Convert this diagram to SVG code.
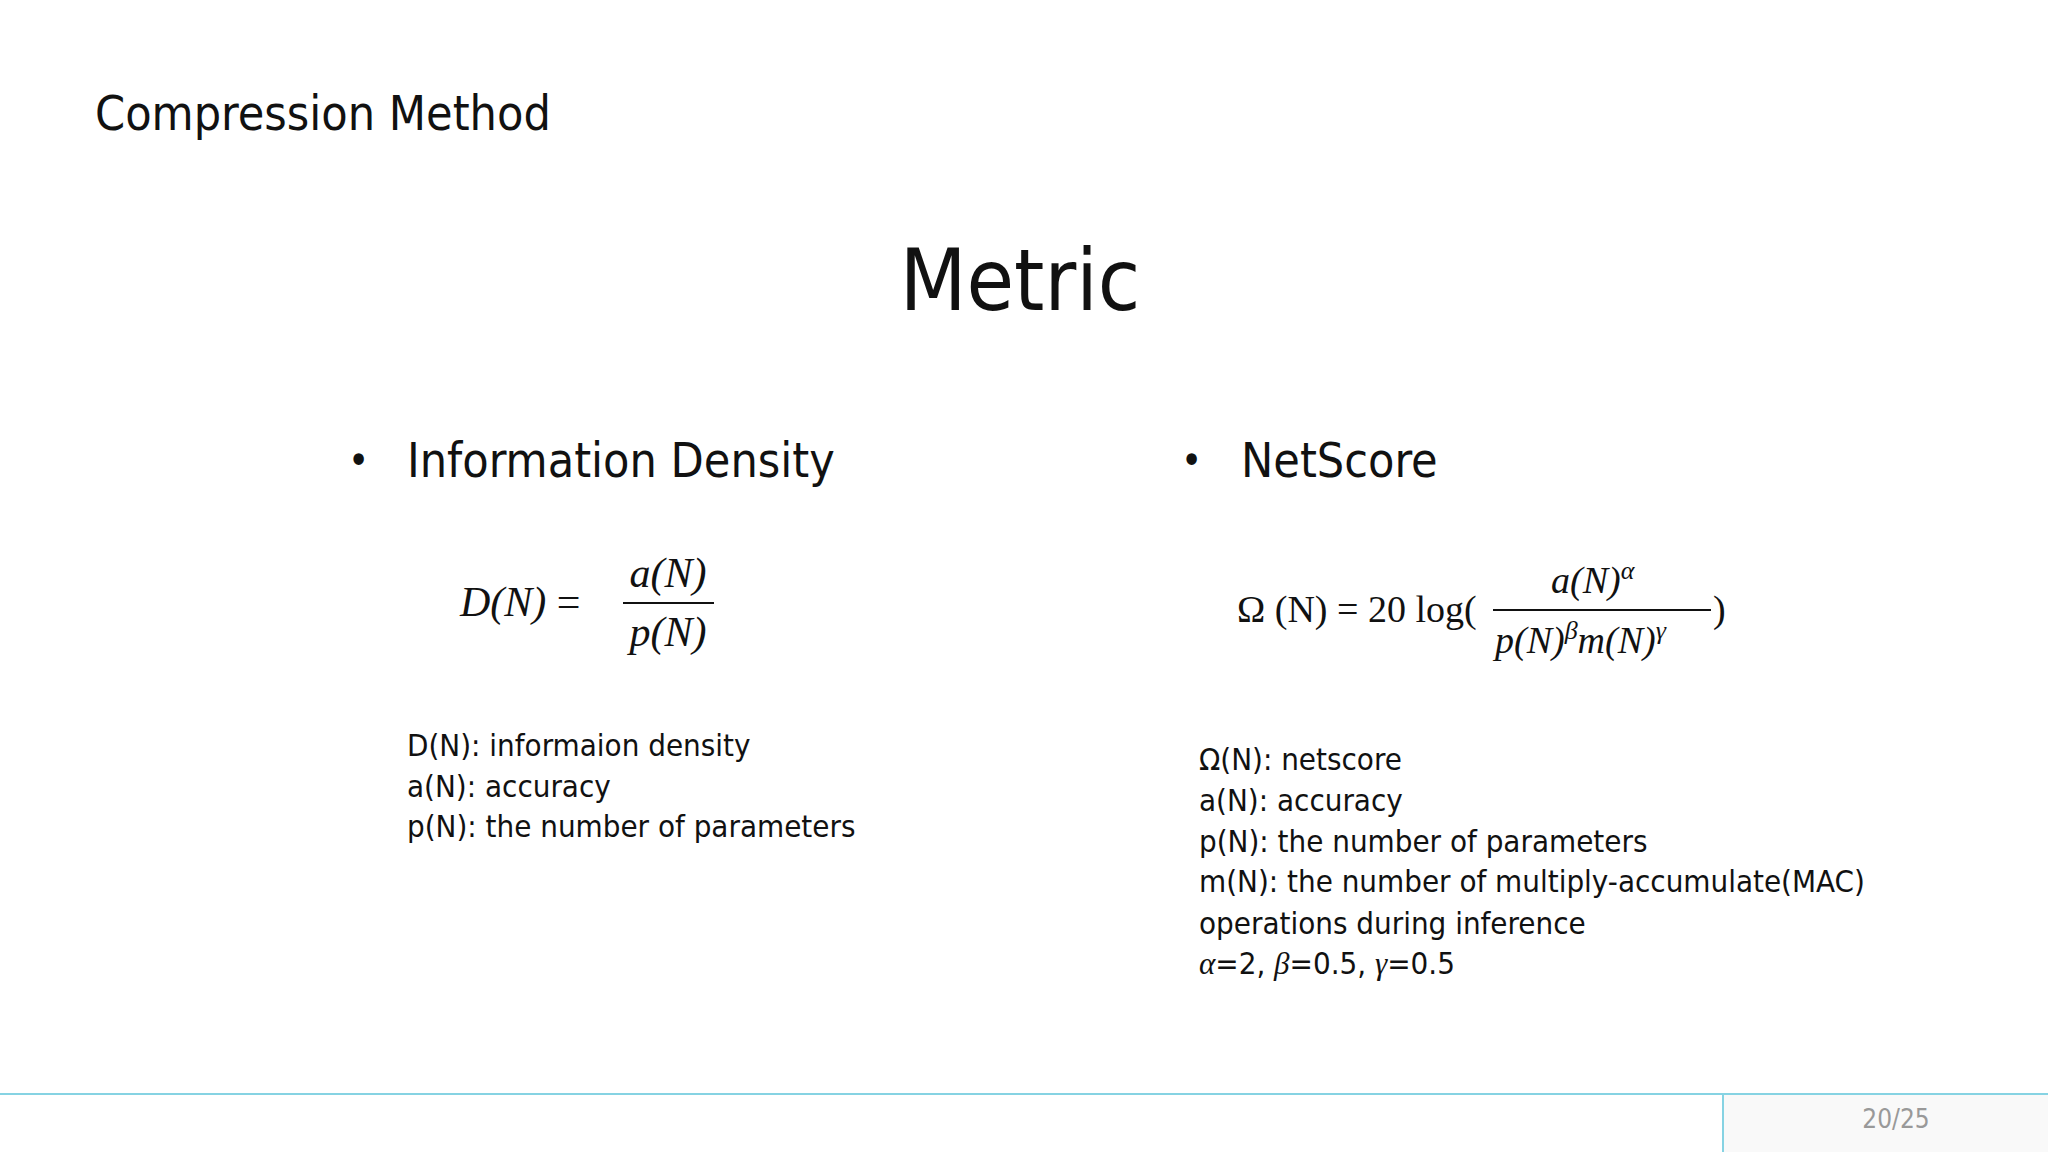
<svg xmlns="http://www.w3.org/2000/svg" width="2048" height="1152" viewBox="0 0 2048 1152">
<style>
.h{font-family:"DejaVu Sans Condensed","Liberation Sans Narrow","Liberation Sans",sans-serif;fill:#111}
.m{font-family:"Liberation Serif","DejaVu Serif",serif;fill:#111}
.d{font-family:"DejaVu Sans Condensed","Liberation Sans Narrow","Liberation Sans",sans-serif;font-size:31px;fill:#111}
</style>
<rect width="2048" height="1152" fill="#fff"/>
<rect x="1723" y="1094" width="325" height="58" fill="#f9f9f9"/>
<text class="h" x="95" y="130" font-size="48">Compression Method</text>
<text class="h" x="1020" y="310" font-size="86" text-anchor="middle">Metric</text>
<g id="left">
<text class="h" x="348" y="474" font-size="40">•</text>
<text class="h" x="407" y="477" font-size="48">Information Density</text>
<text class="m" x="460" y="616" font-size="42" font-style="italic">D(N) <tspan font-style="normal">=</tspan></text>
<text class="m" x="668" y="587" font-size="42" font-style="italic" text-anchor="middle">a(N)</text>
<line x1="623" y1="603" x2="714" y2="603" stroke="#111" stroke-width="2"/>
<text class="m" x="668" y="646" font-size="42" font-style="italic" text-anchor="middle">p(N)</text>
<text class="d" x="407" y="756">D(N): informaion density</text>
<text class="d" x="407" y="797">a(N): accuracy</text>
<text class="d" x="407" y="837">p(N): the number of parameters</text>
</g>
<g id="right">
<text class="h" x="1181" y="474" font-size="40">•</text>
<text class="h" x="1241" y="477" font-size="48">NetScore</text>
<text class="m" x="1237" y="622" font-size="38">Ω (N) = 20 log(</text>
<text class="m" x="1551" y="593" font-size="38" font-style="italic">a(N)<tspan dy="-14" font-size="26">α</tspan></text>
<line x1="1493" y1="610" x2="1711" y2="610" stroke="#111" stroke-width="2"/>
<text class="m" x="1495" y="653" font-size="38" font-style="italic">p(N)<tspan dy="-14" font-size="26">β</tspan><tspan dy="14">m(N)</tspan><tspan dy="-14" font-size="26">γ</tspan></text>
<text class="m" x="1713" y="622" font-size="38">)</text>
<text class="d" x="1199" y="770">Ω(N): netscore</text>
<text class="d" x="1199" y="811">a(N): accuracy</text>
<text class="d" x="1199" y="852">p(N): the number of parameters</text>
<text class="d" x="1199" y="892">m(N): the number of  multiply-accumulate(MAC)</text>
<text class="d" x="1199" y="934">operations during inference</text>
<text class="d" x="1199" y="974"><tspan font-style="italic" font-family="Liberation Serif,serif">α</tspan>=2, <tspan font-style="italic" font-family="Liberation Serif,serif">β</tspan>=0.5, <tspan font-style="italic" font-family="Liberation Serif,serif">γ</tspan>=0.5</text>
</g>
<line x1="0" y1="1094" x2="2048" y2="1094" stroke="#86d3e3" stroke-width="2"/>
<line x1="1723" y1="1094" x2="1723" y2="1152" stroke="#86d3e3" stroke-width="2"/>
<text class="h" x="1896" y="1128" font-size="26" fill="#999" style="fill:#999" text-anchor="middle">20/25</text>
</svg>
